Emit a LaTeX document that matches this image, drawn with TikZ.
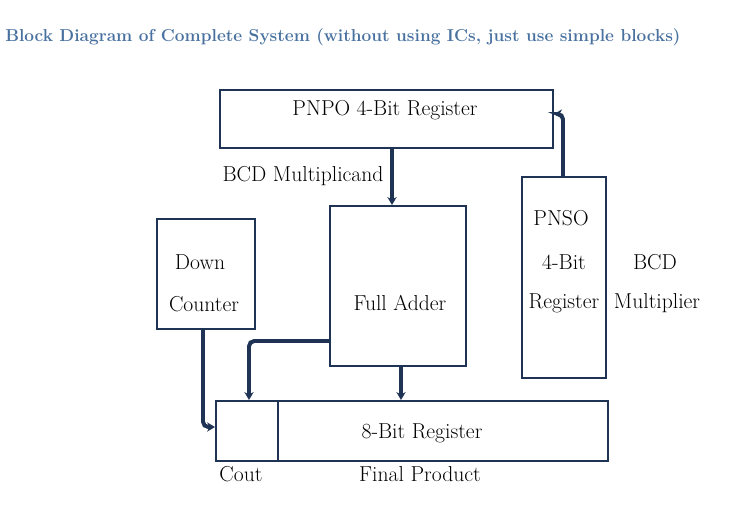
\documentclass[tikz,border=0pt]{standalone}
\usepackage{tikz}
\usetikzlibrary{positioning, arrows.meta}
\definecolor{navy}{RGB}{31,52,84}
\definecolor{titleblue}{RGB}{72,113,160}
\tikzset{
  blk/.style={draw=navy, line width=1.6pt, inner sep=0pt, anchor=north west},
  lbl/.style={font=\fontsize{16.3}{19}\selectfont, inner sep=0pt},
  wire/.style={draw=navy, line width=3pt, rounded corners=4pt},
  tip/.style={-{Stealth[length=6pt,width=7pt]}}
}
\begin{document}
\begin{tikzpicture}[x=0.0265cm, y=-0.0265cm]
        \useasboundingbox[fill=white] (0,0) rectangle (755,507);
        % Titulo
        \node[anchor=west, inner sep=0pt, text=titleblue, font=\bfseries\fontsize{13}{15}\selectfont] (title) at (5,37) {Block Diagram of Complete System (without using ICs, just use simple blocks)};
        % Bloques
        \node[blk, minimum width=333*0.0265cm, minimum height=58*0.0265cm] (pnpo) at (219,89) {};
        \node[lbl] at (385,110) {PNPO 4-Bit Register};
        \node[blk, minimum width=136*0.0265cm, minimum height=160*0.0265cm] (fa) at (329,205) {};
        \node[lbl] at (400,303) {Full Adder};
        \node[blk, minimum width=98*0.0265cm, minimum height=110*0.0265cm] (dc) at (156,218) {};
        \node[lbl] at (200,262) {Down};
        \node[lbl] at (204,304) {Counter};
        \node[blk, minimum width=84*0.0265cm, minimum height=201*0.0265cm] (pnso) at (521,176) {};
        \node[lbl] at (561,218) {PNSO};
        \node[lbl] at (564,262) {4-Bit};
        \node[lbl] at (564,303) {Register};
        \node[blk, minimum width=392*0.0265cm, minimum height=60*0.0265cm] (reg) at (215,400) {};
        \node[blk, minimum width=62*0.0265cm, minimum height=60*0.0265cm] (cout) at (215,400) {};
        \node[lbl] at (422,433) {8-Bit Register};
        % Etiquetas
        \node[lbl] (mcand) at (303,176) {BCD Multiplicand};
        \node[lbl] (bcd) at (655,262) {BCD};
        \node[lbl] (mult) at (657,303) {Multiplier};
        \node[lbl] (coutl) at (241,474) {Cout};
        \node[lbl] (fp) at (420,474) {Final Product};
        % Conexiones
        \coordinate (c1) at (392,147);
        \coordinate (c2) at (563,114);
        \coordinate (c3) at (203,427);
        \coordinate (c4) at (330,341);
        \coordinate (c5) at (249,341);
        \coordinate (c6) at (401,365);
        \draw[wire, tip] (c1) -- (c1 |- fa.north);
        \draw[wire, tip] (c2 |- pnso.north) -- (c2) -- (pnpo.east |- c2);
        \draw[wire, tip] (c3 |- dc.south) -- (c3) -- (reg.west |- c3);
        \draw[wire, tip] (c4) -- (c5) -- (c5 |- reg.north);
        \draw[wire, tip] (c6) -- (c6 |- reg.north);
\end{tikzpicture}
\end{document}
